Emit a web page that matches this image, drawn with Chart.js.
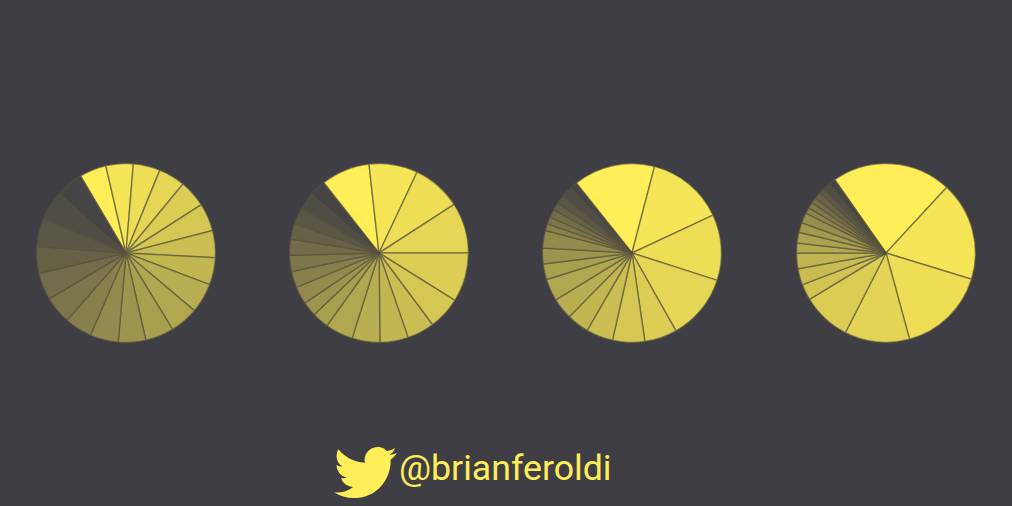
<!DOCTYPE html>
<html>
<head>
<meta charset="utf-8">
<title>pies</title>
<script src="https://cdn.jsdelivr.net/npm/chart.js@4"></script>
<style>
    html, body { margin: 0; padding: 0; background: #3f3e45; overflow: hidden; }
    #stage { position: relative; width: 1012px; height: 506px; }
    #stage canvas { position: absolute; top: 153px; }
    #bird { position: absolute; left: 334px; top: 441px; width: 63px; height: 63px; }
    #handle {
        position: absolute; left: 399px; top: 445px;
        font: 400 35.7px Roboto, sans-serif; line-height: 46px; color: #ffee58;
    }
</style>
</head>
<body>
<div id="stage">
    <canvas id="pie1" width="200" height="200" style="left:26px"></canvas>
    <canvas id="pie2" width="200" height="200" style="left:279px"></canvas>
    <canvas id="pie3" width="200" height="200" style="left:531.5px"></canvas>
    <canvas id="pie4" width="200" height="200" style="left:785.5px"></canvas>
    <svg id="bird" viewBox="0 0 24 24"><path fill="#ffee58" d="M23.953 4.57a10 10 0 01-2.825.775 4.958 4.958 0 002.163-2.723c-.951.555-2.005.959-3.127 1.184a4.92 4.92 0 00-8.384 4.482C7.69 8.095 4.067 6.13 1.64 3.162a4.822 4.822 0 00-.666 2.475c0 1.71.87 3.213 2.188 4.096a4.904 4.904 0 01-2.228-.616v.06a4.923 4.923 0 003.946 4.827 4.996 4.996 0 01-2.212.085 4.936 4.936 0 004.604 3.417 9.867 9.867 0 01-6.102 2.105c-.39 0-.779-.023-1.17-.067a13.995 13.995 0 007.557 2.209c9.053 0 13.998-7.496 13.998-13.985 0-.21 0-.42-.015-.63A9.935 9.935 0 0024 4.59z"/></svg>
    <div id="handle">@brianferoldi</div>
</div>
<script>
    // slice sizes (degrees of the circle)
    const pie1Values = [17.6, 17.7, 17.5, 17.4, 17.7, 18.1, 17.6, 17.7, 19.4, 18.6, 18.5, 17.8, 18.4, 17.9, 17.8, 17.8, 17.4, 18.2, 18.9, 18.0];
    const pie2Values = [31.8, 31.6, 31.9, 32.9, 32.0, 21.3, 17.7, 18.4, 18.1, 18.1, 10.9, 9.5, 11.4, 10.7, 10.4, 10.5, 10.2, 10.8, 10.9, 10.9];
    const pie3Values = [53.2, 50.4, 42.8, 42.8, 21.1, 20.9, 17.5, 14.4, 13.9, 14.4, 10.2, 10.2, 11.3, 4.5, 4.6, 5.4, 4.9, 5.8, 6.8, 4.9];
    const pie4Values = [77.8, 64.3, 57.6, 42.3, 31.8, 10.5, 10.5, 10.2, 6.4, 7.0, 6.4, 6.7, 3.8, 3.9, 3.8, 4.3, 3.7, 4.4, 4.6];

    // where the brightest slice begins, clockwise from the top
    const pieStarts = [-30.6, -38.2, -38.6, -35];

    // each slice fades by its rank, not by its size
    // the fade is slow at first and a bit quicker past the middle
    function fadeColors(values) {
        return values.map((v, i) => {
            const t = i / values.length;
            const alpha = t < 0.5 ? 1 - 0.9 * t : Math.max(0.04, 0.55 - 1.15 * (t - 0.5));
            return `rgba(255, 238, 88, ${alpha})`;
        });
    }

    function createPie(id, values, rotation) {
        return new Chart(document.getElementById(id), {
            type: 'pie',
            data: {
                labels: values.map((v, i) => i + 1),
                datasets: [{
                    data: values,
                    backgroundColor: fadeColors(values),
                    borderColor: 'rgba(85, 80, 62, 0.6)',
                    borderWidth: 1.5
                }]
            },
            options: {
                responsive: false,
                animation: false,
                rotation: rotation,
                radius: 89.5,
                plugins: { legend: { display: false }, tooltip: { enabled: false } }
            }
        });
    }

    createPie('pie1', pie1Values, pieStarts[0]);
    createPie('pie2', pie2Values, pieStarts[1]);
    createPie('pie3', pie3Values, pieStarts[2]);
    createPie('pie4', pie4Values, pieStarts[3]);
</script>
</body>
</html>
